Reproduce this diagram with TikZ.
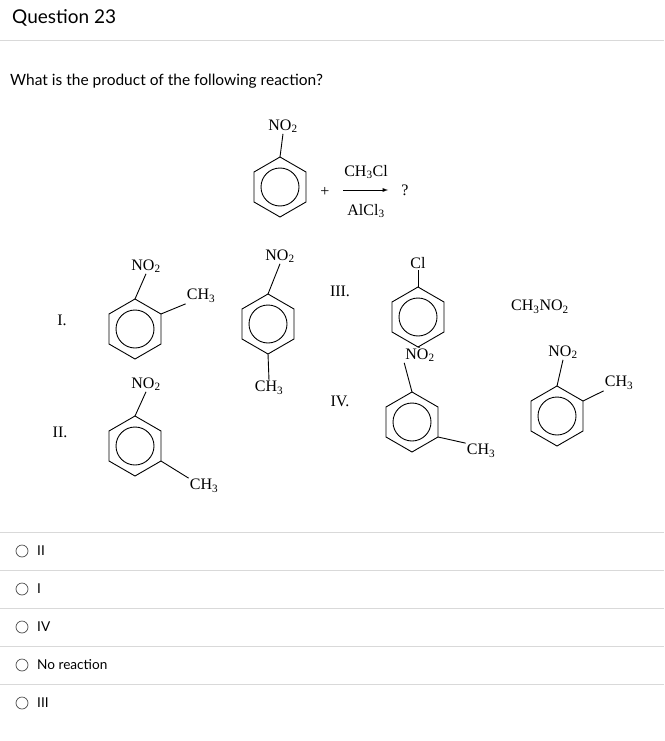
\documentclass[tikz,border=0pt]{standalone}
\usepackage{fontspec}
\setmainfont{Lato}
\newfontfamily\chemf{Liberation Serif}
\begin{document}
\begin{tikzpicture}[x=1pt,y=-1pt,
  lbl/.style={font=\chemf\fontsize{16}{16}\selectfont, inner sep=1pt},
  ui/.style={font=\fontsize{13.6}{15}\selectfont, anchor=west, inner sep=0pt},
  sep/.style={draw=black!15, line width=0.8pt},
  radio/.style={draw=black!70, line width=0.7pt},
  bond/.style={line width=0.9pt},
  pics/ring/.style={code={
    \draw[bond] (-90:30)--(-30:30)--(30:30)--(90:30)--(150:30)--(210:30)--cycle;
    \draw[bond] (0,0) circle (19);
    \coordinate (-t) at (-90:30); \coordinate (-ur) at (-30:30);
    \coordinate (-lr) at (30:30); \coordinate (-b) at (90:30);}}]
\useasboundingbox (0,0) rectangle (664,741);
\fill[white] (0,0) rectangle (664,741);
% header
\node[ui, font=\fontsize{19}{21}\selectfont] (title) at (12,18) {Question 23};
\draw[sep] (0,40) -- (664,40);
\node[ui, font=\fontsize{15.5}{17}\selectfont] (q) at (10,81) {What is the product of the following reaction?};
% reaction
\pic (r0) at (280,187) {ring};
\node[lbl] (n0) at (283,126) {NO\textsubscript{2}};
\draw[bond] (r0-t) -- (n0.south);
\node[lbl] (plus) at (325,192) {+};
\coordinate (a1) at (343,190); \coordinate (a2) at (388,190);
\draw[line width=0.9pt,-latex] (a1) -- (a2);
\node[lbl] (c1) at (366,172) {CH\textsubscript{3}Cl};
\node[lbl] (c2) at (366,211) {AlCl\textsubscript{3}};
\node[lbl] (qm) at (405,190) {?};
% I
\node[lbl] (L1) at (62,320) {I.};
\pic (r1) at (135,329) {ring};
\node[lbl] (n1) at (146,266) {NO\textsubscript{2}};
\node[lbl] (m1) at (201,296) {CH\textsubscript{3}};
\draw[bond] (r1-t) -- (n1.south);
\draw[bond] (r1-ur) -- (m1.south west);
% para
\pic (r2) at (268,324) {ring};
\node[lbl] (n2) at (280,256) {NO\textsubscript{2}};
\node[lbl] (m2) at (269,388) {CH\textsubscript{3}};
\draw[bond] (r2-t) -- (n2.south);
\draw[bond] (r2-b) -- (m2.north);
\node[lbl] (L3) at (340,291) {III.};
% Cl ring
\node[lbl] (cl) at (418,263) {Cl};
\pic (r3) at (418,317) {ring};
\draw[bond] (r3-t) -- (cl.south);
\node[lbl] (n3) at (420,355) {NO\textsubscript{2}};
\draw[bond] (r3-b) -- (n3.north);
\node[lbl] (L4) at (340,401) {IV.};
\pic (r4) at (412,422) {ring};
\draw[bond] (r4-t) -- (n3.south west);
\node[lbl] (m4) at (481,451) {CH\textsubscript{3}};
\draw[bond] (r4-lr) -- (m4.north west);
% right
\node[lbl] (cn) at (540,307) {CH\textsubscript{3}NO\textsubscript{2}};
\pic (r5) at (557,416) {ring};
\node[lbl] (n5) at (563,352) {NO\textsubscript{2}};
\node[lbl] (m5) at (619,383) {CH\textsubscript{3}};
\draw[bond] (r5-t) -- (n5.south);
\draw[bond] (r5-ur) -- (m5.south west);
% II
\node[lbl] (L2) at (60,432) {II.};
\pic (r6) at (135,446) {ring};
\node[lbl] (n6) at (146,384) {NO\textsubscript{2}};
\node[lbl] (m6) at (204,486) {CH\textsubscript{3}};
\draw[bond] (r6-t) -- (n6.south);
\draw[bond] (r6-lr) -- (m6.north west);
% options
\foreach \y/\t [count=\i] in {551/II, 589/I, 627/IV, 665/No reaction, 703/III}{
  \draw[sep] (0,\y-19) -- (664,\y-19);
  \draw[radio] (22,\y) circle (6);
  \node[ui] (o\i) at (37,\y) {\t};
}
\end{tikzpicture}
\end{document}
